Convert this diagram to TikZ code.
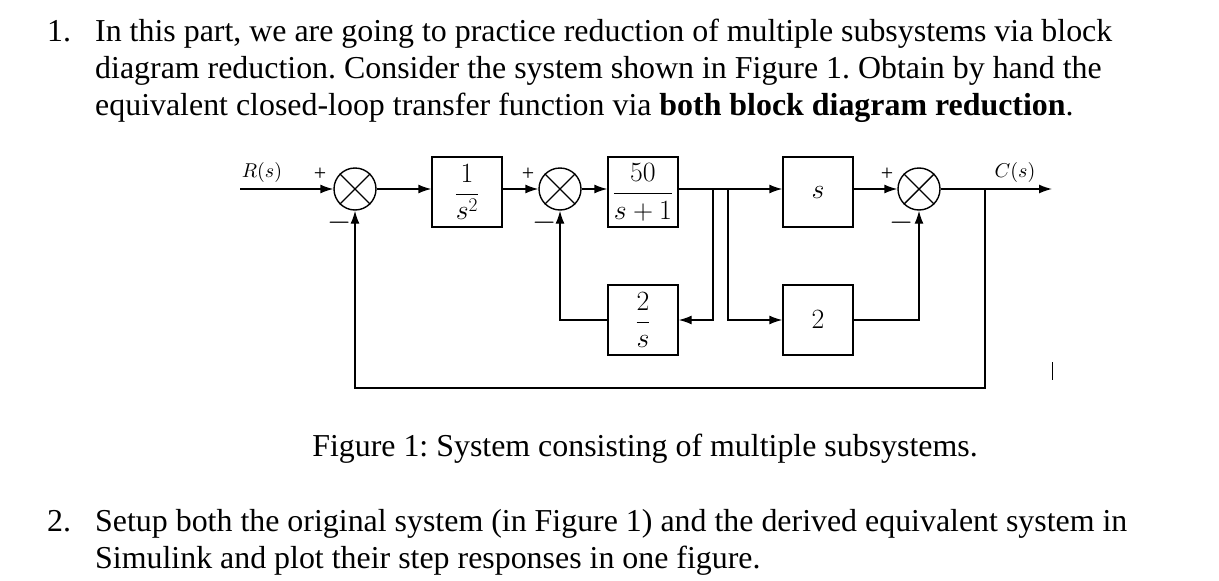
\documentclass[tikz,border=0pt]{standalone}
\usepackage{graphicx}
\usepackage{fontspec}
\setmainfont{Liberation Serif}
\usetikzlibrary{arrows.meta}
\frenchspacing
\newcommand{\bm}[1]{\scalebox{1.12}{$\displaystyle #1$}}
\begin{document}
\begin{tikzpicture}[x=1pt,y=-1pt,
  txt/.style={anchor=base west,inner sep=0,font=\fontsize{31.9}{37}\selectfont},
  blk/.style={draw,line width=1.4pt,minimum width=70pt,minimum height=70pt,inner sep=0,font=\fontsize{24}{26}\selectfont},
  sum/.style={draw,circle,line width=1.4pt,minimum size=42pt,inner sep=0},
  ln/.style={line width=1.4pt},
  ar/.style={ln,-{Latex[length=13pt,width=9pt]}},
  sg/.style={font=\fontsize{22}{22}\selectfont,inner sep=0}]
\useasboundingbox (0,0) rectangle (1219,581);
\node[txt] (n1) at (47,41) {1.};
\node[txt] (l1) at (95,41) {In this part, we are going to practice reduction of multiple subsystems via block};
\node[txt] (l2) at (95,78) {diagram reduction. Consider the system shown in Figure 1. Obtain by hand the};
\node[txt] (l3) at (95,115) {equivalent closed-loop transfer function via \textbf{both block diagram reduction}.};
\node[txt,anchor=base] (cap) at (645,456) {Figure 1: System consisting of multiple subsystems.};
\node[txt] (n2) at (47,531) {2.};
\node[txt] (l4) at (95,531) {Setup both the original system (in Figure 1) and the derived equivalent system in};
\node[txt] (l5) at (95,568) {Simulink and plot their step responses in one figure.};
% diagram
\node[sum] (s1) at (355,189) {};
\node[sum] (s2) at (560,189) {};
\node[sum] (s3) at (919,189) {};
\foreach \s in {s1,s2,s3}{\draw[ln] (\s.north west)--(\s.south east) (\s.north east)--(\s.south west);}
\node[blk] (g1) at (467,192) {\bm{\frac{1}{s^2}}};
\node[blk] (g2) at (643,192) {\bm{\frac{50}{s+1}}};
\node[blk] (g3) at (818,192) {\bm{s}};
\node[blk] (h1) at (643,320) {\bm{\frac{2}{s}}};
\node[blk] (h2) at (818,320) {\bm{2}};
\coordinate (in) at (240,189);
\coordinate (out) at (1052,189);
\coordinate (b1) at (713,189);
\coordinate (b2) at (728,189);
\coordinate (b3) at (985,189);
\draw[ar] (in) -- (s1);
\draw[ar] (s1) -- (g1.west|-s1);
\draw[ar] (g1.east|-s2) -- (s2);
\draw[ar] (s2) -- (g2.west|-s2);
\draw[ln] (g2.east|-b1) -- (b2);
\draw[ar] (b2) -- (g3.west|-b2);
\draw[ar] (g3.east|-s3) -- (s3);
\draw[ar] (s3) -- (out);
\draw[ar] (b1) |- (h1.east);
\draw[ar] (h1.west) -| (s2.south);
\draw[ar] (b2) |- (h2.west);
\draw[ar] (h2.east) -| (s3.south);
\draw[ar] (b3) |- (355,388) -- (s1.south);
\node[inner sep=0] (R) at (262,172) {\scalebox{2}{$R(s)$}};
\node[inner sep=0] (C) at (1015,172) {\scalebox{2}{$C(s)$}};
\node[sg] (p1) at (320,174) {+};
\node[sg] (m1) at (340,223) {\scalebox{1.5}{$-$}};
\node[sg] (p2) at (528,174) {+};
\node[sg] (m2) at (545,223) {\scalebox{1.5}{$-$}};
\node[sg] (p3) at (887,174) {+};
\node[sg] (m3) at (902,223) {\scalebox{1.5}{$-$}};
\coordinate (t1) at (1052,362); \coordinate (t2) at (1052,380);
\draw[line width=1pt] (t1)--(t2);
\end{tikzpicture}
\end{document}
